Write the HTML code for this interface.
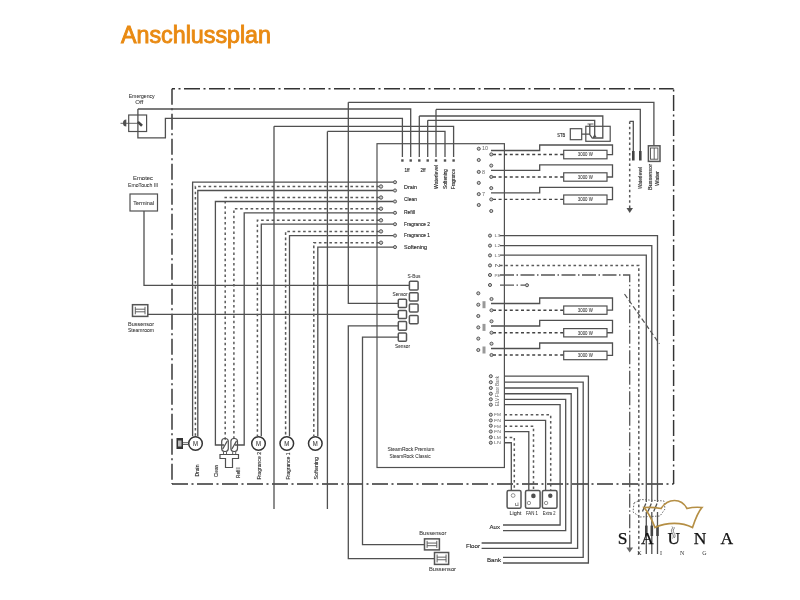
<!DOCTYPE html>
<html><head><meta charset="utf-8">
<style>
html,body{margin:0;padding:0;background:#fff;}
body{width:800px;height:600px;overflow:hidden;position:relative;}
svg{position:absolute;left:0;top:0;filter:blur(0.3px);}
.s{fill:none;stroke:#505050;stroke-width:1.3;}
.thin{fill:none;stroke:#505050;stroke-width:0.9;}
.thick{fill:none;stroke:#444;stroke-width:2.6;}
.d{fill:none;stroke:#5a5a5a;stroke-width:1.5;stroke-dasharray:2.6 2.65;}
.dsh{fill:none;stroke:#444;stroke-width:1.4;stroke-dasharray:3 2.6;}
.dot{fill:none;stroke:#666;stroke-width:1;stroke-dasharray:1.5 1.5;}
.dd{fill:none;stroke:#333;stroke-width:1.45;stroke-dasharray:16 3.5 2 3.5;}
.dd2{fill:none;stroke:#555;stroke-width:1.3;stroke-dasharray:14 2.5 1.5 2.5;}
.dg{fill:none;stroke:#555;stroke-width:1.2;stroke-dasharray:5 2.5;}
.bx{fill:none;stroke:#505050;stroke-width:1.2;}
.bx3{fill:none;stroke:#555;stroke-width:1.5;}
.cl{fill:none;stroke:#888;stroke-width:0.9;}
.bx2{fill:#fff;stroke:#555;stroke-width:1.5;}
.co{fill:#ccc;stroke:#555;stroke-width:1;}
.mo{fill:#fff;stroke:#333;stroke-width:1.5;}
.f{fill:#505050;stroke:none;}
.tt{font-family:"Liberation Sans",sans-serif;fill:#666;}
.tl{font-family:"Liberation Sans",sans-serif;fill:#333;stroke:#333;stroke-width:0.06;}
.tb{font-family:"Liberation Sans",sans-serif;fill:#222;font-weight:bold;}
.t{font-family:"Liberation Sans",sans-serif;fill:#2a2a2a;stroke:#2a2a2a;stroke-width:0.14;}
.sf{font-family:"Liberation Serif",serif;}
.ttl{font-family:"Liberation Sans",sans-serif;fill:#e98a12;stroke:#e98a12;stroke-width:0.9;}
.title{position:absolute;left:120px;top:20px;font-family:"Liberation Sans",sans-serif;font-weight:bold;font-size:23px;color:#ec8c0c;}
</style></head><body>
<svg width="800" height="600" viewBox="0 0 800 600">
<path class="dd" style="stroke-dashoffset:13" d="M172,88.8 L673.6,88.8"/>
<path class="dd" style="stroke-dashoffset:18.8" d="M673.6,88.8 L673.6,484"/>
<path class="dd" d="M172,484 L673.6,484"/>
<path class="dd" d="M172,88.8 L172,484"/>
<text class="tl" x="141.7" y="97.6" font-size="5.6" text-anchor="middle" textLength="26" lengthAdjust="spacingAndGlyphs">Emergency</text>
<text class="tl" x="139.2" y="103.6" font-size="5.6" text-anchor="middle" textLength="8" lengthAdjust="spacingAndGlyphs">Off</text>
<rect class="bx" x="128.7" y="115" width="17.9" height="16.5" rx="0"/>
<path class="s" d="M137.9,109 L410.7,109 L410.7,157"/>
<path class="s" d="M137.9,109 L137.9,137.9 L165.4,137.9 L165.4,118.3 L402.4,118.3 L402.4,157"/>
<path class="thin" d="M120.5,123.3 L137.9,123.3"/>
<path class="f" d="M126.3,119.6 A3.3,3.5 0 0 0 126.3,126.6 Z"/>
<path class="thick" d="M137.9,121.9 L142,125.8"/>
<text class="tl" x="143" y="180" font-size="5.2" text-anchor="middle" textLength="20" lengthAdjust="spacingAndGlyphs">Emotec</text>
<text class="tl" x="143" y="186.5" font-size="5.2" text-anchor="middle" textLength="30" lengthAdjust="spacingAndGlyphs">EmoTouch III</text>
<rect class="bx" x="130" y="194" width="27.5" height="17" rx="0"/>
<text class="tl" x="143.7" y="205" font-size="5.2" text-anchor="middle" textLength="21" lengthAdjust="spacingAndGlyphs">Terminal</text>
<path class="s" d="M144,211 L144,285.3 L409.4,285.3"/>
<rect class="bx2" x="132.5" y="304.7" width="15.3" height="11.7" rx="0"/>
<path class="thin" d="M135.3,306.8 L135.3,314.3"/>
<path class="thin" d="M145,306.8 L145,314.3"/>
<path class="thin" d="M135.3,309.2 L145,309.2"/>
<path class="thin" d="M135.3,311.8 L145,311.8"/>
<path class="s" d="M147.8,314.4 L398.3,314.4"/>
<text class="tl" x="141" y="326" font-size="5.2" text-anchor="middle" textLength="26" lengthAdjust="spacingAndGlyphs">Bussensor</text>
<text class="tl" x="141" y="332.3" font-size="5.2" text-anchor="middle" textLength="26" lengthAdjust="spacingAndGlyphs">Steamroom</text>
<path class="s" d="M393.3,182.2 L192.6,182.2 L192.6,436"/>
<circle class="co" cx="395" cy="182.2" r="1.55"/>
<path class="d" d="M379.2,186.5 L195.4,186.5 L195.4,436"/>
<circle class="co" cx="381" cy="186.5" r="1.7"/>
<path class="s" d="M393.3,190.5 L197.8,190.5 L197.8,436"/>
<circle class="co" cx="395" cy="190.5" r="1.55"/>
<path class="d" d="M379.2,197.5 L225.2,197.5 L225.2,440"/>
<circle class="co" cx="381" cy="197.5" r="1.7"/>
<path class="s" d="M393.3,201.5 L215.4,201.5 L215.4,445 L224,445"/>
<circle class="co" cx="395" cy="201.5" r="1.55"/>
<path class="d" d="M379.2,208.7 L233.9,208.7 L233.9,440"/>
<circle class="co" cx="381" cy="208.7" r="1.7"/>
<path class="s" d="M393.3,212.8 L244.2,212.8 L244.2,445 L235,445"/>
<circle class="co" cx="395" cy="212.8" r="1.55"/>
<path class="d" d="M379.2,220.3 L257.4,220.3 L257.4,436"/>
<circle class="co" cx="381" cy="220.3" r="1.7"/>
<path class="s" d="M393.3,224.2 L261.3,224.2 L261.3,436"/>
<circle class="co" cx="395" cy="224.2" r="1.55"/>
<path class="d" d="M379.2,231.4 L285.6,231.4 L285.6,436"/>
<circle class="co" cx="381" cy="231.4" r="1.7"/>
<path class="s" d="M393.3,235.6 L289.5,235.6 L289.5,436"/>
<circle class="co" cx="395" cy="235.6" r="1.55"/>
<path class="d" d="M379.2,242.7 L313.8,242.7 L313.8,436"/>
<circle class="co" cx="381" cy="242.7" r="1.7"/>
<path class="s" d="M393.3,247.1 L317.8,247.1 L317.8,436"/>
<circle class="co" cx="395" cy="247.1" r="1.55"/>
<text class="t" x="404" y="188.5" font-size="5.4" text-anchor="start" textLength="13" lengthAdjust="spacingAndGlyphs">Drain</text>
<text class="t" x="404" y="201" font-size="5.4" text-anchor="start" textLength="13" lengthAdjust="spacingAndGlyphs">Clean</text>
<text class="t" x="404" y="213.5" font-size="5.4" text-anchor="start" textLength="11" lengthAdjust="spacingAndGlyphs">Refill</text>
<text class="t" x="404" y="225.5" font-size="5.4" text-anchor="start" textLength="26" lengthAdjust="spacingAndGlyphs">Fragrance 2</text>
<text class="t" x="404" y="236.5" font-size="5.4" text-anchor="start" textLength="26" lengthAdjust="spacingAndGlyphs">Fragrance 1</text>
<text class="t" x="404" y="248.5" font-size="5.4" text-anchor="start" textLength="23" lengthAdjust="spacingAndGlyphs">Softening</text>
<circle class="mo" cx="195.5" cy="443.5" r="6.8"/>
<text class="tl" x="195.5" y="446.2" font-size="6.8" text-anchor="middle" textLength="5" lengthAdjust="spacingAndGlyphs">M</text>
<circle class="mo" cx="258.5" cy="443.5" r="6.8"/>
<text class="tl" x="258.5" y="446.2" font-size="6.8" text-anchor="middle" textLength="5" lengthAdjust="spacingAndGlyphs">M</text>
<circle class="mo" cx="286.8" cy="443.5" r="6.8"/>
<text class="tl" x="286.8" y="446.2" font-size="6.8" text-anchor="middle" textLength="5" lengthAdjust="spacingAndGlyphs">M</text>
<circle class="mo" cx="315.3" cy="443.5" r="6.8"/>
<text class="tl" x="315.3" y="446.2" font-size="6.8" text-anchor="middle" textLength="5" lengthAdjust="spacingAndGlyphs">M</text>
<rect x="176.5" y="438" width="6.5" height="11" fill="#333"/>
<rect x="178" y="440.5" width="3.5" height="6" fill="#bbb"/>
<path class="thin" d="M183,442.7 L188.7,442.7"/>
<path class="thin" d="M183,444.5 L188.7,444.5"/>
<rect class="bx" x="221.7" y="438.5" width="6.6" height="13" rx="3"/>
<path class="s" d="M222.7,449 L227.3,441"/>
<path class="thin" d="M223.5,451.5 L223.5,454.5"/>
<path class="thin" d="M226.5,451.5 L226.5,454.5"/>
<rect class="bx" x="230.9" y="438.5" width="6.6" height="13" rx="3"/>
<path class="s" d="M231.9,449 L236.5,441"/>
<path class="thin" d="M232.7,451.5 L232.7,454.5"/>
<path class="thin" d="M235.7,451.5 L235.7,454.5"/>
<path class="bx" d="M220,454.5 L238.5,454.5 L238.5,458.5 L232.5,458.5 L232.5,467.5 L225.5,467.5 L225.5,458.5 L220,458.5 Z"/>
<text class="t" x="198.5" y="476.5" font-size="6" text-anchor="start" textLength="12" lengthAdjust="spacingAndGlyphs" transform="rotate(-90 198.5 476.5)">Drain</text>
<text class="t" x="218" y="477" font-size="6" text-anchor="start" textLength="12" lengthAdjust="spacingAndGlyphs" transform="rotate(-90 218 477)">Clean</text>
<text class="t" x="239.5" y="478" font-size="6" text-anchor="start" textLength="10.5" lengthAdjust="spacingAndGlyphs" transform="rotate(-90 239.5 478)">Refill</text>
<text class="t" x="261" y="479.5" font-size="6" text-anchor="start" textLength="27.5" lengthAdjust="spacingAndGlyphs" transform="rotate(-90 261 479.5)">Fragrance 2</text>
<text class="t" x="289.5" y="479.5" font-size="6" text-anchor="start" textLength="27" lengthAdjust="spacingAndGlyphs" transform="rotate(-90 289.5 479.5)">Fragrance 1</text>
<text class="t" x="317.5" y="479.5" font-size="6" text-anchor="start" textLength="22.5" lengthAdjust="spacingAndGlyphs" transform="rotate(-90 317.5 479.5)">Softening</text>
<path class="s" d="M274,126.3 L274,509"/>
<path class="s" d="M274,126.3 L453.6,126.3 L453.6,157"/>
<path class="s" d="M327.4,131.4 L327.4,509"/>
<path class="s" d="M327.4,131.4 L445,131.4 L445,157"/>
<path class="s" d="M348.3,102.3 L348.3,303.3 L398.3,303.3"/>
<path class="s" d="M348.3,102.3 L653.9,102.3 L653.9,146"/>
<path class="s" d="M398.3,325.8 L348.3,325.8 L348.3,558.6 L434.5,558.6"/>
<path class="s" d="M398.3,337.2 L362.5,337.2 L362.5,544.6 L424.5,544.6"/>
<path class="s" d="M436,109.4 L640.3,109.4 L640.3,160"/>
<path class="s" d="M419.3,116 L602.8,116 L602.8,138 L593,138"/>
<path class="s" d="M427.7,120.3 L594.7,120.3 L594.7,135"/>
<path class="s" d="M419.3,116 L419.3,157"/>
<path class="s" d="M427.7,120.3 L427.7,157"/>
<path class="s" d="M436,109.4 L436,157"/>
<rect class="f" x="401.2" y="159.3" width="2.4" height="2.4"/>
<rect class="f" x="409.5" y="159.3" width="2.4" height="2.4"/>
<rect class="f" x="418.1" y="159.3" width="2.4" height="2.4"/>
<rect class="f" x="426.5" y="159.3" width="2.4" height="2.4"/>
<rect class="f" x="434.8" y="159.3" width="2.4" height="2.4"/>
<rect class="f" x="443.8" y="159.3" width="2.4" height="2.4"/>
<rect class="f" x="452.4" y="159.3" width="2.4" height="2.4"/>
<text class="t" x="407" y="172" font-size="5" text-anchor="middle" textLength="5" lengthAdjust="spacingAndGlyphs">1ff</text>
<text class="t" x="423" y="172" font-size="5" text-anchor="middle" textLength="5" lengthAdjust="spacingAndGlyphs">2ff</text>
<text class="t" x="437.8" y="189" font-size="5" text-anchor="start" textLength="24" lengthAdjust="spacingAndGlyphs" transform="rotate(-90 437.8 189)">Waterlevel</text>
<text class="t" x="446.5" y="189" font-size="5" text-anchor="start" textLength="20" lengthAdjust="spacingAndGlyphs" transform="rotate(-90 446.5 189)">Softening</text>
<text class="t" x="455" y="189" font-size="5" text-anchor="start" textLength="20" lengthAdjust="spacingAndGlyphs" transform="rotate(-90 455 189)">Fragrance</text>
<rect class="bx" x="377" y="143.7" width="127.4" height="323.8" rx="0"/>
<text class="tl" x="411" y="451" font-size="5.4" text-anchor="middle" textLength="47" lengthAdjust="spacingAndGlyphs">SteamRock Premium</text>
<text class="tl" x="410" y="457.5" font-size="5.4" text-anchor="middle" textLength="41" lengthAdjust="spacingAndGlyphs">SteamRock Classic</text>
<text class="t" x="561.2" y="137.3" font-size="5.4" text-anchor="middle" textLength="8" lengthAdjust="spacingAndGlyphs">STB</text>
<rect class="bx" x="570.3" y="128.7" width="11.4" height="11" rx="0"/>
<rect class="bx" x="585.8" y="126.3" width="24.4" height="15" rx="0"/>
<path class="s" d="M581.7,134.2 L589.5,134.2 L592.5,138.5"/>
<path class="s" d="M589.8,124 L589.8,134.2"/>
<path class="thin" d="M587.5,124 L593.5,124"/>
<path class="f" d="M591.8,138.8 L594.7,134 L596.5,137 Z"/>
<path class="s" d="M491,150.5 L539.7,150.5 L539.7,145 L612.5,145 L612.5,154.55 L607,154.55"/>
<path class="dsh" d="M493,154.5 L563.7,154.5"/>
<rect class="bx" x="563.7" y="150.3" width="43.3" height="8.5" rx="0"/>
<text class="tl" x="585.3" y="156.35" font-size="5" text-anchor="middle" textLength="15" lengthAdjust="spacingAndGlyphs">3000 W</text>
<path class="s" d="M491,170.4 L539.7,170.4 L539.7,164.8 L612.5,164.8 L612.5,177 L607,177"/>
<path class="dsh" d="M493,177 L563.7,177"/>
<rect class="bx" x="563.7" y="172.8" width="43.3" height="8.4" rx="0"/>
<text class="tl" x="585.3" y="178.8" font-size="5" text-anchor="middle" textLength="15" lengthAdjust="spacingAndGlyphs">3000 W</text>
<path class="s" d="M491,192.9 L539.7,192.9 L539.7,187.4 L612.5,187.4 L612.5,199.55 L607,199.55"/>
<path class="dsh" d="M493,199.4 L563.7,199.4"/>
<rect class="bx" x="563.7" y="195" width="43.3" height="9.1" rx="0"/>
<text class="tl" x="585.3" y="201.35" font-size="5" text-anchor="middle" textLength="15" lengthAdjust="spacingAndGlyphs">3000 W</text>
<circle class="co" cx="478.75" cy="148.75" r="1.55"/>
<circle class="co" cx="478.75" cy="160" r="1.55"/>
<circle class="co" cx="478.75" cy="171.9" r="1.55"/>
<circle class="co" cx="478.75" cy="182.9" r="1.55"/>
<circle class="co" cx="478.75" cy="194.1" r="1.55"/>
<circle class="co" cx="478.75" cy="205" r="1.55"/>
<circle class="co" cx="491.25" cy="154.4" r="1.55"/>
<circle class="co" cx="491.25" cy="165.6" r="1.55"/>
<circle class="co" cx="491.25" cy="176.9" r="1.55"/>
<circle class="co" cx="491.25" cy="188.1" r="1.55"/>
<circle class="co" cx="491.25" cy="199.4" r="1.55"/>
<circle class="co" cx="491.25" cy="211" r="1.55"/>
<path class="s" d="M491,303.5 L539.7,303.5 L539.7,298 L612.5,298 L612.5,310.15 L607,310.15"/>
<path class="dsh" d="M493,310.3 L563.7,310.3"/>
<rect class="bx" x="563.7" y="306" width="43.3" height="8.3" rx="0"/>
<text class="tl" x="585.3" y="311.95" font-size="5" text-anchor="middle" textLength="15" lengthAdjust="spacingAndGlyphs">3000 W</text>
<path class="s" d="M491,326 L539.7,326 L539.7,320.4 L612.5,320.4 L612.5,332.75 L607,332.75"/>
<path class="dsh" d="M493,332.7 L563.7,332.7"/>
<rect class="bx" x="563.7" y="328.6" width="43.3" height="8.3" rx="0"/>
<text class="tl" x="585.3" y="334.55" font-size="5" text-anchor="middle" textLength="15" lengthAdjust="spacingAndGlyphs">3000 W</text>
<path class="s" d="M491,348.5 L539.7,348.5 L539.7,343 L612.5,343 L612.5,355.45 L607,355.45"/>
<path class="dsh" d="M493,355 L563.7,355"/>
<rect class="bx" x="563.7" y="351.2" width="43.3" height="8.5" rx="0"/>
<text class="tl" x="585.3" y="357.25" font-size="5" text-anchor="middle" textLength="15" lengthAdjust="spacingAndGlyphs">3000 W</text>
<circle class="co" cx="478.3" cy="293.3" r="1.55"/>
<circle class="co" cx="478.3" cy="304.7" r="1.55"/>
<circle class="co" cx="478.3" cy="316" r="1.55"/>
<circle class="co" cx="478.3" cy="327.4" r="1.55"/>
<circle class="co" cx="478.3" cy="338.6" r="1.55"/>
<circle class="co" cx="478.3" cy="350" r="1.55"/>
<circle class="co" cx="491.5" cy="299" r="1.55"/>
<circle class="co" cx="491.5" cy="310.3" r="1.55"/>
<circle class="co" cx="491.5" cy="321.3" r="1.55"/>
<circle class="co" cx="491.5" cy="332.7" r="1.55"/>
<circle class="co" cx="491.5" cy="343.7" r="1.55"/>
<circle class="co" cx="491.5" cy="355" r="1.55"/>
<circle class="co" cx="490" cy="235.6" r="1.55"/>
<circle class="co" cx="490" cy="245.6" r="1.55"/>
<circle class="co" cx="490" cy="255.4" r="1.55"/>
<circle class="co" cx="490" cy="265.4" r="1.55"/>
<circle class="co" cx="490" cy="275" r="1.55"/>
<circle class="co" cx="490" cy="285" r="1.55"/>
<path class="s" d="M500,235.7 L657.5,235.7 L657.5,502"/>
<path class="s" d="M500,245.6 L651.8,245.6 L651.8,502"/>
<path class="s" d="M500,255.2 L646.3,255.2 L646.3,502"/>
<path class="d" d="M500,265.4 L638.8,265.4 L638.8,555"/>
<path class="dd2" d="M500,275 L629.7,275 L629.7,548"/>
<path fill="#666" d="M626.3,547.5 L633.1,547.5 L629.7,552.5 Z"/>
<path class="dd2" d="M500,285.2 L525,285.2"/>
<circle class="co" cx="527" cy="285.2" r="1.55"/>
<path class="dg" d="M624.5,294 L659.4,343.75"/>
<circle class="co" cx="490.8" cy="376.2" r="1.55"/>
<circle class="co" cx="490.8" cy="382.2" r="1.55"/>
<circle class="co" cx="490.8" cy="388" r="1.55"/>
<circle class="co" cx="490.8" cy="393.75" r="1.55"/>
<circle class="co" cx="490.8" cy="399.3" r="1.55"/>
<circle class="co" cx="490.8" cy="404.7" r="1.55"/>
<path class="s" d="M504.4,376.2 L588.4,376.2 L588.4,563 L503,563"/>
<path class="s" d="M504.4,382.2 L583.2,382.2 L583.2,557.4 L503,557.4"/>
<path class="s" d="M504.4,388 L577.6,388 L577.6,548.4 L481.6,548.4"/>
<path class="s" d="M504.4,393.75 L571.2,393.75 L571.2,543 L481.6,543"/>
<path class="s" d="M504.4,399.3 L565.7,399.3 L565.7,530.6 L503,530.6"/>
<path class="s" d="M504.4,404.7 L560.1,404.7 L560.1,525 L503,525"/>
<text class="tt" x="499" y="406" font-size="5" text-anchor="start" textLength="30" lengthAdjust="spacingAndGlyphs" transform="rotate(-90 499 406)">ELV Floor Bank</text>
<text class="t" x="500" y="528.5" font-size="6" text-anchor="end" textLength="10.5" lengthAdjust="spacingAndGlyphs">Aux</text>
<text class="t" x="480" y="548" font-size="6" text-anchor="end" textLength="14" lengthAdjust="spacingAndGlyphs">Floor</text>
<text class="t" x="501" y="561.5" font-size="6" text-anchor="end" textLength="14" lengthAdjust="spacingAndGlyphs">Bank</text>
<circle class="co" cx="490.8" cy="414.75" r="1.55"/>
<circle class="co" cx="490.8" cy="420.4" r="1.55"/>
<circle class="co" cx="490.8" cy="425.7" r="1.55"/>
<circle class="co" cx="490.8" cy="431.5" r="1.55"/>
<circle class="co" cx="490.8" cy="437.25" r="1.55"/>
<circle class="co" cx="490.8" cy="442.75" r="1.55"/>
<path class="d" d="M504.4,414.75 L550.7,414.75 L550.7,491"/>
<path class="s" d="M504.4,420.4 L545.6,420.4 L545.6,491"/>
<path class="d" d="M504.4,426.3 L533.5,426.3 L533.5,491"/>
<path class="s" d="M504.4,431.7 L528.8,431.7 L528.8,491"/>
<path class="d" d="M504.4,437.4 L514.3,437.4 L514.3,491"/>
<path class="s" d="M504.4,442.75 L511.3,442.75 L511.3,491"/>
<rect class="bx3" x="507.1" y="490.6" width="13.9" height="17.7" rx="1.5"/>
<rect class="bx3" x="525.5" y="490.6" width="14.6" height="17.7" rx="1.5"/>
<rect class="bx3" x="542.4" y="490.6" width="14.6" height="17.7" rx="1.5"/>
<circle class="cl" cx="513.1" cy="495.5" r="1.9"/>
<path d="M515.2,505.5 L518.5,505.5 M515.5,503 L515.5,505.5 M518,502.5 L518,505.5" stroke="#777" stroke-width="0.8" fill="none"/>
<circle class="f" cx="533.4" cy="495.9" r="2.3"/>
<circle class="cl" cx="528.9" cy="503" r="1.7"/>
<circle class="f" cx="550.3" cy="495.7" r="2.2"/>
<circle class="cl" cx="546.1" cy="503" r="1.7"/>
<text class="tl" x="515.4" y="515.3" font-size="5.8" text-anchor="middle" textLength="12" lengthAdjust="spacingAndGlyphs">Light</text>
<text class="tl" x="531.9" y="515.3" font-size="5.8" text-anchor="middle" textLength="12" lengthAdjust="spacingAndGlyphs">FAN 1</text>
<text class="tl" x="549.1" y="515.3" font-size="5.8" text-anchor="middle" textLength="12.7" lengthAdjust="spacingAndGlyphs">Extra 2</text>
<rect class="bx2" x="424.5" y="538.85" width="14.9" height="11.05" rx="0"/>
<path class="thin" d="M427.1,540.85 L427.1,547.9"/>
<path class="thin" d="M436.8,540.85 L436.8,547.9"/>
<path class="thin" d="M427.1,543.075 L436.8,543.075"/>
<path class="thin" d="M427.1,545.675 L436.8,545.675"/>
<rect class="bx2" x="434.5" y="552.5" width="14.15" height="11.9" rx="0"/>
<path class="thin" d="M437.1,554.5 L437.1,562.4"/>
<path class="thin" d="M446.05,554.5 L446.05,562.4"/>
<path class="thin" d="M437.1,557.15 L446.05,557.15"/>
<path class="thin" d="M437.1,559.75 L446.05,559.75"/>
<text class="tl" x="432.8" y="534.5" font-size="5.6" text-anchor="middle" textLength="27" lengthAdjust="spacingAndGlyphs">Bussensor</text>
<text class="tl" x="442.5" y="571" font-size="5.6" text-anchor="middle" textLength="27" lengthAdjust="spacingAndGlyphs">Bussensor</text>
<path class="d" d="M629.7,121.4 L629.7,208"/>
<path class="f" d="M626.5,208 L633,208 L629.7,213 Z"/>
<path class="s" d="M629.7,121.4 L633.3,121.4 L633.3,160"/>
<path class="thick" d="M633.3,151 L633.3,160.5"/>
<path class="thick" d="M640.3,151 L640.3,160.5"/>
<text class="t" x="642" y="189" font-size="5" text-anchor="start" textLength="22" lengthAdjust="spacingAndGlyphs" transform="rotate(-90 642 189)">Waterlevel</text>
<rect class="bx2" x="648.4" y="145.8" width="11.6" height="15.6" rx="0"/>
<rect class="thin" x="650.5" y="148" width="7.4" height="11.2" rx="0"/>
<path class="thin" d="M654.2,148 L654.2,159.2"/>
<text class="t" x="652" y="190" font-size="5" text-anchor="start" textLength="26" lengthAdjust="spacingAndGlyphs" transform="rotate(-90 652 190)">Bussensor</text>
<text class="t" x="659" y="186" font-size="5" text-anchor="start" textLength="15" lengthAdjust="spacingAndGlyphs" transform="rotate(-90 659 186)">Water</text>
<path class="dot" d="M634,503 L641,499.5 L664,501 L665,509 L660,516 L640,517 L633,512 Z"/>
<path class="s" d="M645.8,503.5 L642.5,511.5"/>
<path class="s" d="M646.3,512 L646.3,554"/>
<path class="thick" d="M646.3,525.6 L646.3,536"/>
<path class="s" d="M651.3,503.5 L648,511.5"/>
<path class="s" d="M651.8,512 L651.8,554"/>
<path class="thick" d="M651.8,525.6 L651.8,536"/>
<path class="s" d="M657,503.5 L653.7,511.5"/>
<path class="s" d="M657.5,512 L657.5,554"/>
<path class="thick" d="M657.5,525.6 L657.5,536"/>
<text class="tt" x="494" y="416.3" font-size="4" textLength="7" lengthAdjust="spacingAndGlyphs">FM</text>
<text class="tt" x="494" y="422" font-size="4" textLength="7" lengthAdjust="spacingAndGlyphs">FN</text>
<text class="tt" x="494" y="427.5" font-size="4" textLength="7" lengthAdjust="spacingAndGlyphs">FM</text>
<text class="tt" x="494" y="433.2" font-size="4" textLength="7" lengthAdjust="spacingAndGlyphs">FN</text>
<text class="tt" x="494" y="438.9" font-size="4" textLength="7" lengthAdjust="spacingAndGlyphs">LM</text>
<text class="tt" x="494" y="444.3" font-size="4" textLength="7" lengthAdjust="spacingAndGlyphs">LN</text>
<text class="tt" x="494.5" y="237.2" font-size="4" textLength="6" lengthAdjust="spacingAndGlyphs">L3</text>
<text class="tt" x="494.5" y="247.2" font-size="4" textLength="6" lengthAdjust="spacingAndGlyphs">L2</text>
<text class="tt" x="494.5" y="257" font-size="4" textLength="6" lengthAdjust="spacingAndGlyphs">L1</text>
<text class="tt" x="494.5" y="267" font-size="4" textLength="6" lengthAdjust="spacingAndGlyphs">N</text>
<text class="tt" x="494.5" y="276.6" font-size="4" textLength="6" lengthAdjust="spacingAndGlyphs">PE</text>
<rect x="482.5" y="301.2" width="3" height="7" fill="#999"/>
<rect x="482.5" y="323.9" width="3" height="7" fill="#999"/>
<rect x="482.5" y="346.5" width="3" height="7" fill="#999"/>
<text class="tt" x="482" y="150.3" font-size="4.5" textLength="6" lengthAdjust="spacingAndGlyphs">10</text>
<text class="tt" x="482" y="173.5" font-size="4.5" textLength="3" lengthAdjust="spacingAndGlyphs">8</text>
<text class="tt" x="482" y="195.7" font-size="4.5" textLength="3" lengthAdjust="spacingAndGlyphs">7</text>
<text class="tl" x="414" y="278" font-size="5.4" text-anchor="middle" textLength="13" lengthAdjust="spacingAndGlyphs">S-Bus</text>
<rect class="bx2" x="409.4" y="281.2" width="8.7" height="8.8" rx="1"/>
<rect class="bx2" x="409.4" y="292.8" width="8.7" height="8.2" rx="1"/>
<rect class="bx2" x="409.4" y="303.9" width="8.7" height="8.2" rx="1"/>
<rect class="bx2" x="409.4" y="315.6" width="8.7" height="8.2" rx="1"/>
<text class="tl" x="400" y="296" font-size="5.4" text-anchor="middle" textLength="15" lengthAdjust="spacingAndGlyphs">Sensor</text>
<rect class="bx2" x="398.3" y="299.3" width="8.2" height="8.1" rx="1"/>
<rect class="bx2" x="398.3" y="310.6" width="8.2" height="7.9" rx="1"/>
<rect class="bx2" x="398.3" y="321.4" width="8.2" height="8.8" rx="1"/>
<rect class="bx2" x="398.3" y="333.1" width="8.2" height="8.2" rx="1"/>
<text class="tl" x="402.5" y="348" font-size="5.4" text-anchor="middle" textLength="15" lengthAdjust="spacingAndGlyphs">Sensor</text>
<path d="M644,507.5 C648,512 652,520 655,527.5 C667,522 682,522 692.5,527.5 C695,520 698,512 702,507.5 C697,507 691,507.5 687,508.5 C684,503 679,500.5 674.5,500.5 C669,500.5 664,504 661,508.5 C656,507.5 650,507 644,507.5 Z" fill="none" stroke="#b58f45" stroke-width="1.7"/>
<text x="622.7" y="544" font-size="17.5" text-anchor="middle" class="sf" fill="#111" stroke="#111" stroke-width="0.25">S</text>
<text x="647.2" y="544" font-size="17.5" text-anchor="middle" class="sf" fill="#111" stroke="#111" stroke-width="0.25">A</text>
<text x="673.9" y="544" font-size="17.5" text-anchor="middle" class="sf" fill="#111" stroke="#111" stroke-width="0.25">U</text>
<text x="700" y="544" font-size="17.5" text-anchor="middle" class="sf" fill="#111" stroke="#111" stroke-width="0.25">N</text>
<text x="726.8" y="544" font-size="17.5" text-anchor="middle" class="sf" fill="#111" stroke="#111" stroke-width="0.25">A</text>
<text x="639.5" y="555" font-size="6" text-anchor="middle" class="sf" fill="#333">K</text>
<text x="661" y="555" font-size="6" text-anchor="middle" class="sf" fill="#333">I</text>
<text x="682.2" y="555" font-size="6" text-anchor="middle" class="sf" fill="#333">N</text>
<text x="704.4" y="555" font-size="6" text-anchor="middle" class="sf" fill="#333">G</text>
<path d="M672.5,538.5 C675.5,535 669.5,532 672,529 C673,527.5 672.5,527 672,526.5 M674.3,538 C677,534.5 671.5,532 673.8,529 C674.6,528 674.3,527.5 673.8,527" fill="none" stroke="#777" stroke-width="0.9"/>
<text class="ttl" x="121" y="43.2" font-size="23.5" textLength="150" lengthAdjust="spacingAndGlyphs">Anschlussplan</text>
</svg>
</body></html>
